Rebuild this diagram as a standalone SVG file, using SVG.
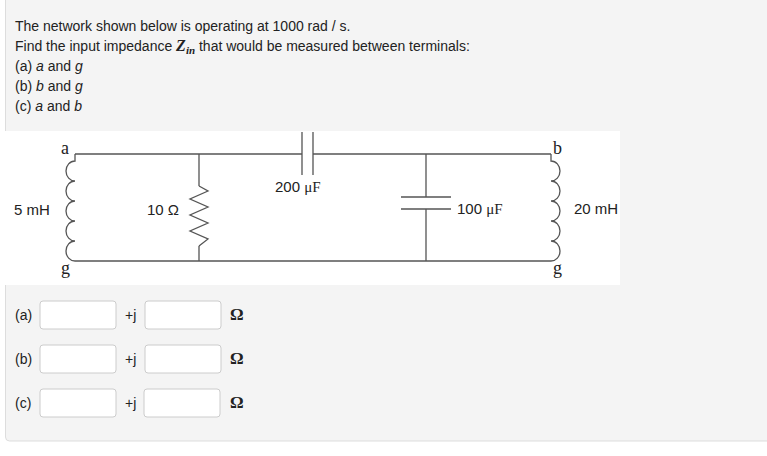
<svg xmlns="http://www.w3.org/2000/svg" width="767" height="456" viewBox="0 0 767 456">
<style>
.t{font-family:"Liberation Sans",Arial,sans-serif;font-size:14px;fill:#222}
.s{font-family:"Liberation Serif","Times New Roman",serif;fill:#222}
.w{stroke:#555;stroke-width:1.3;fill:none}
.box{fill:#fff;stroke:#ccc;stroke-width:1}
.c{font-family:"Liberation Sans",Arial,sans-serif;font-size:15px;fill:#222}
</style>
<rect width="767" height="456" fill="#fff"/>
<rect x="5.5" y="-5" width="770" height="446" rx="4" fill="#f4f4f4" stroke="#ddd"/>
<g id="question">
<text class="t" x="15" y="31">The network shown below is operating at 1000 rad / s.</text>
<text class="t" x="15" y="51">Find the input impedance <tspan font-family="'Liberation Serif',serif" font-style="italic" font-weight="bold" font-size="16">Z<tspan font-size="11" dy="3">in</tspan></tspan><tspan dy="-3"> that would be measured between terminals:</tspan></text>
<text class="t" x="15" y="71">(a) <tspan font-style="italic">a</tspan> and <tspan font-style="italic">g</tspan></text>
<text class="t" x="15" y="91">(b) <tspan font-style="italic">b</tspan> and <tspan font-style="italic">g</tspan></text>
<text class="t" x="15" y="111">(c) <tspan font-style="italic">a</tspan> and <tspan font-style="italic">b</tspan></text>
</g>
<rect x="5" y="131" width="615" height="154" fill="#fff"/>
<g id="connectors">
<path class="w" d="M75 154 H302 M313 154 H551 M75 261 H551 M199 154 V186 M199 246 V261 M426 154 V197 M426 209 V261"/>
</g>
<g id="L1">
<path class="w" d="M75 154 V161 a9 10 0 0 0 0 20 a9 10 0 0 0 0 20 a9 10 0 0 0 0 20 a9 10 0 0 0 0 20 a9 10 0 0 0 0 20 V261"/>
<text class="c" x="14" y="215">5 mH</text>
<text class="s" x="61" y="154" font-size="18">a</text>
<text class="s" x="61" y="274" font-size="18">g</text>
</g>
<g id="R1">
<path class="w" d="M199 186 L208 191 L190 199 L208 207 L190 215 L208 223 L190 231 L208 239 L199 246"/>
<text class="c" x="147" y="215">10 Ω</text>
</g>
<g id="C1">
<path class="w" d="M302 132 V175 M313 132 V175"/>
<text class="c" x="275" y="192">200 <tspan font-family="'Liberation Serif',serif">μF</tspan></text>
</g>
<g id="C2">
<path class="w" d="M401 197 H451 M401 209 H451"/>
<text class="c" x="457" y="214">100 <tspan font-family="'Liberation Serif',serif">μF</tspan></text>
</g>
<g id="L2">
<path class="w" d="M551 154 V161 a9 10 0 0 1 0 20 a9 10 0 0 1 0 20 a9 10 0 0 1 0 20 a9 10 0 0 1 0 20 a9 10 0 0 1 0 20 V261"/>
<text class="c" x="574" y="214">20 mH</text>
<text class="s" x="553" y="154" font-size="18">b</text>
<text class="s" x="553" y="274" font-size="18">g</text>
</g>
<g id="answers">
<text class="t" x="15" y="320">(a)</text>
<rect class="box" x="40" y="301" width="76" height="28" rx="3"/>
<text class="t" x="125" y="320">+j</text>
<rect class="box" x="145" y="301" width="76" height="28" rx="3"/>
<text class="s" x="230" y="320" font-size="17" font-weight="bold">Ω</text>
<text class="t" x="15" y="364">(b)</text>
<rect class="box" x="40" y="345" width="76" height="28" rx="3"/>
<text class="t" x="125" y="364">+j</text>
<rect class="box" x="145" y="345" width="76" height="28" rx="3"/>
<text class="s" x="230" y="364" font-size="17" font-weight="bold">Ω</text>
<text class="t" x="15" y="408">(c)</text>
<rect class="box" x="40" y="389" width="76" height="28" rx="3"/>
<text class="t" x="125" y="408">+j</text>
<rect class="box" x="144" y="389" width="76" height="28" rx="3"/>
<text class="s" x="230" y="408" font-size="17" font-weight="bold">Ω</text>
</g>
</svg>
